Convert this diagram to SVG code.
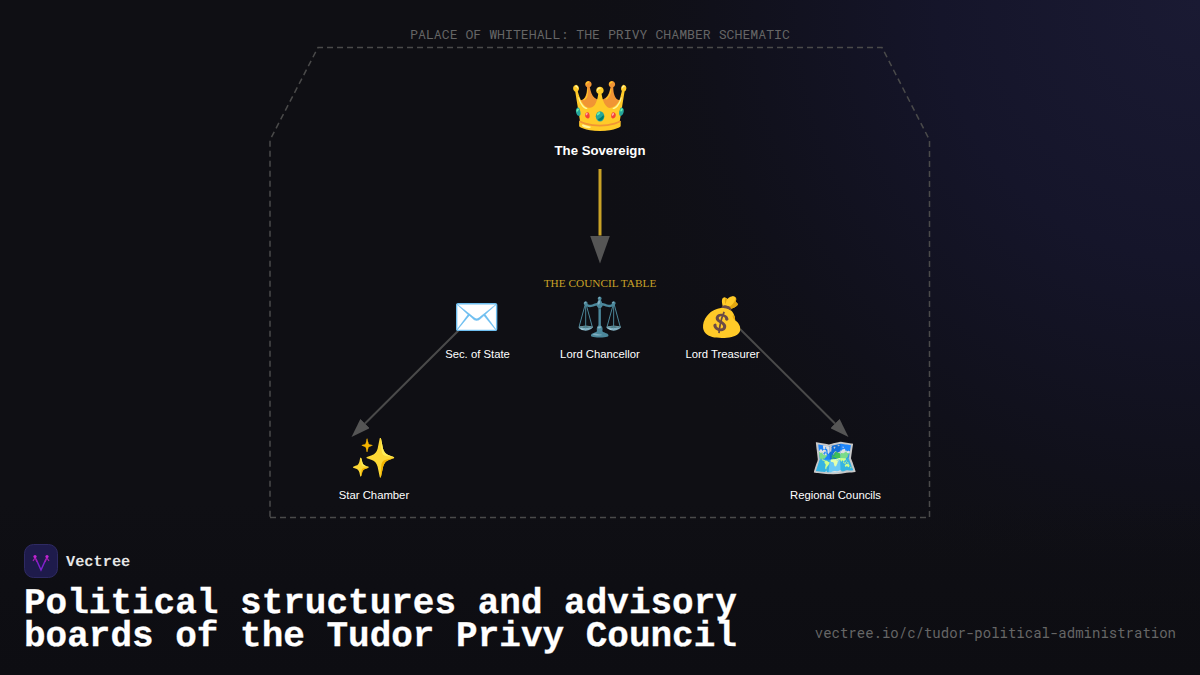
<svg xmlns="http://www.w3.org/2000/svg" width="1200" height="675" viewBox="0 0 1200 675">
<defs>
<radialGradient id="glow" gradientUnits="userSpaceOnUse" cx="1200" cy="0" r="650">
<stop offset="0" stop-color="#1a1a33"/><stop offset="0.4" stop-color="#15152a"/><stop offset="0.75" stop-color="#10101a"/><stop offset="1" stop-color="#0f0f14" stop-opacity="0"/>
</radialGradient>
<linearGradient id="fade" x1="0" y1="0" x2="0" y2="1"><stop offset="0" stop-color="#0d0d12" stop-opacity="0"/><stop offset="1" stop-color="#0d0d12"/></linearGradient>
<marker id="arrow" markerUnits="userSpaceOnUse" markerWidth="28" markerHeight="20" refX="0" refY="10" orient="auto" viewBox="0 0 28 20"><path d="M0 0L28 10L0 20Z" fill="#555"/></marker>
<marker id="arrow2" markerUnits="userSpaceOnUse" markerWidth="19" markerHeight="13" refX="0" refY="6.500" orient="auto" viewBox="0 0 19 13"><path d="M0 0L19 6.500L0 13Z" fill="#555"/></marker>
<style>
.mono{font-family:"Roboto Mono","Liberation Mono",monospace}
.head{font-family:"Liberation Mono",monospace;font-weight:700;text-rendering:geometricPrecision}
.lbl{font-family:"Liberation Sans",Arial,sans-serif;font-size:11.300px;fill:#fff;text-anchor:middle}
.emoji{font-family:"Noto Color Emoji",sans-serif;text-anchor:middle}
</style>
</defs>
<rect width="1200" height="675" fill="#0f0f14"/>
<rect width="1200" height="675" fill="url(#glow)"/>
<rect y="500" width="1200" height="175" fill="url(#fade)"/>
<text class="mono" x="600" y="39" font-size="13.200" fill="#666" text-anchor="middle">PALACE OF WHITEHALL: THE PRIVY CHAMBER SCHEMATIC</text>
<path d="M270 517.500H929.500V140L882 47.500H318L270 140Z" fill="none" stroke="#4a4a4a" stroke-width="1.500" stroke-dasharray="6 4"/>
<g id="connectors">
<line x1="600" y1="169" x2="600" y2="235.500" stroke="#c9a227" stroke-width="3" marker-end="url(#arrow)"/>
<line x1="459" y1="330" x2="365" y2="423.500" stroke="#4a4a4a" stroke-width="2" marker-end="url(#arrow2)"/>
<line x1="740" y1="329" x2="835" y2="423.500" stroke="#4a4a4a" stroke-width="2" marker-end="url(#arrow2)"/>
</g>
<g id="sovereign"><text class="emoji" x="600" y="122" font-size="48">👑</text><text x="600" y="155" font-family="Liberation Sans,Arial,sans-serif" font-size="13.200" font-weight="700" fill="#fff" text-anchor="middle">The Sovereign</text></g>
<text id="council-table" x="600" y="287" font-family="Liberation Serif,serif" font-size="11.300" fill="#c9a227" text-anchor="middle">THE COUNCIL TABLE</text>
<g id="secretary"><text class="emoji" x="477.500" y="330" font-size="38">✉️</text><text class="lbl" x="477.500" y="358">Sec. of State</text></g>
<g id="chancellor"><text class="emoji" x="600" y="330" font-size="38">⚖️</text><text class="lbl" x="600" y="358">Lord Chancellor</text></g>
<g id="treasurer"><text class="emoji" x="722.500" y="330" font-size="38">💰</text><text class="lbl" x="722.500" y="358">Lord Treasurer</text></g>
<g id="star-chamber"><text class="emoji" x="374" y="471" font-size="38">✨</text><text class="lbl" x="374" y="499">Star Chamber</text></g>
<g id="regional"><text class="emoji" x="835.500" y="471" font-size="38">🗺️</text><text class="lbl" x="835.500" y="499">Regional Councils</text></g>
<g id="brand">
<rect x="24.500" y="544.500" width="33" height="33" rx="9" fill="#1e1b4b" stroke="#2e2a63"/>
<path d="M36 559L41 570L46 559" fill="none" stroke="#7e22ce" stroke-width="1.500"/>
<path d="M35 557L37 562M47 557L45 562M35 558L33 561M47 558L49 561" fill="none" stroke="#a21caf" stroke-width="1.300"/>
<circle cx="35" cy="556.500" r="1.600" fill="#c026d3"/><circle cx="47" cy="556.500" r="1.600" fill="#c026d3"/>
<text class="head" x="66" y="566" font-size="15.300" fill="#e5e5e5">Vectree</text>
</g>
<text class="head" x="24" y="613" font-size="36" fill="#fff" stroke="#fff" stroke-width="0.300">Political structures and advisory</text>
<text class="head" x="24" y="646" font-size="36" fill="#fff" stroke="#fff" stroke-width="0.300">boards of the Tudor Privy Council</text>
<text class="mono" x="1176" y="638" font-size="14" fill="#666" text-anchor="end">vectree.io/c/tudor-political-administration</text>
</svg>
